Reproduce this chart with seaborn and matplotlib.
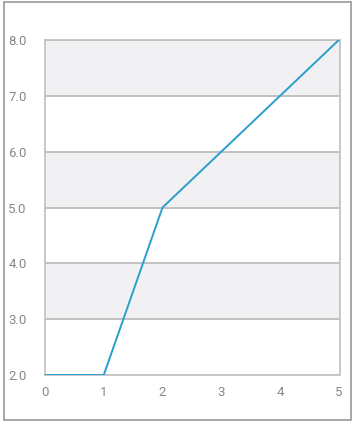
import matplotlib
matplotlib.use("Agg")
import matplotlib.pyplot as plt
import seaborn as sns
import pandas as pd
from matplotlib.patches import Rectangle

x_vals = [0, 1, 2, 3, 4, 5]
y_vals = [2.0, 2.0, 5.0, 6.0, 7.0, 8.0]
y_ticks = [2.0, 3.0, 4.0, 5.0, 6.0, 7.0, 8.0]
x_ticks = [0, 1, 2, 3, 4, 5]
bands = [(7.0, 8.0), (5.0, 6.0), (3.0, 4.0)]

sns.set_theme(style="white")
plt.rcParams['font.family'] = ['Liberation Sans Narrow', 'Roboto', 'DejaVu Sans']

df = pd.DataFrame({"x": x_vals, "y": y_vals})

fig = plt.figure(figsize=(3.55, 4.24), dpi=100)
ax = fig.add_axes([45/355, 49/424, 295/355, 335/424])

for lo, hi in bands:
    ax.axhspan(lo, hi, color="#f1f1f3", zorder=0, lw=0)
for t in y_ticks:
    ax.axhline(t, color="#bdbdbd", lw=1.3, zorder=1)

sns.lineplot(data=df, x="x", y="y", ax=ax, color="#2a9ecd", lw=1.4, zorder=3)

ax.set_xlim(0, 5.02)
ax.set_ylim(2.0, 8.0)
ax.set_xticks(x_ticks)
ax.set_yticks(y_ticks)
ax.set_xticklabels([str(v) for v in x_ticks])
ax.set_yticklabels([f"{v:.1f}" for v in y_ticks])
ax.tick_params(axis="both", length=0, labelsize=9.5, colors="#888888")
ax.tick_params(axis="y", pad=13)
ax.tick_params(axis="x", pad=8)
ax.set_xlabel("")
ax.set_ylabel("")
for s in ax.spines.values():
    s.set_color("#c4c4c4")
    s.set_linewidth(1.3)

fig.patches.append(Rectangle((4/355, 4/424), 347/355, 418/424, transform=fig.transFigure,
                             fill=False, edgecolor="#a0a0a0", lw=1.3))

fig.savefig("out.png", dpi=100)
